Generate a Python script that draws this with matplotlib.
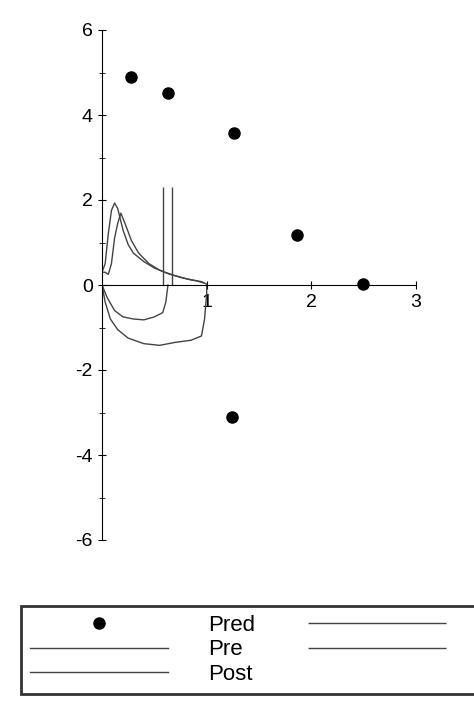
import matplotlib
matplotlib.use("Agg")
import matplotlib.pyplot as plt
plt.rcParams['axes.unicode_minus'] = False
plt.rcParams['font.family'] = ['Liberation Sans', 'DejaVu Sans']

pred_x = [0.28, 0.63, 1.26, 1.86, 2.49, 1.24]
pred_y = [4.89, 4.52, 3.58, 1.18, 0.02, -3.10]

pre_exp_x = [0, 0.03, 0.06, 0.09, 0.12, 0.15, 0.2, 0.25, 0.3, 0.4, 0.5, 0.6, 0.7, 0.8, 0.9, 0.97]
pre_exp_y = [0.3, 0.5, 1.2, 1.75, 1.93, 1.8, 1.3, 0.95, 0.75, 0.55, 0.4, 0.3, 0.22, 0.15, 0.1, 0.05]
pre_insp_x = [0, 0.05, 0.12, 0.2, 0.3, 0.4, 0.5, 0.58, 0.61, 0.63]
pre_insp_y = [0, -0.3, -0.6, -0.75, -0.8, -0.82, -0.75, -0.65, -0.4, 0]

post_exp_x = [0, 0.03, 0.06, 0.09, 0.12, 0.15, 0.18, 0.22, 0.28, 0.35, 0.45, 0.55, 0.65, 0.75, 0.85, 0.95, 1.0]
post_exp_y = [0.3, 0.3, 0.25, 0.5, 1.1, 1.45, 1.69, 1.45, 1.05, 0.75, 0.5, 0.35, 0.25, 0.18, 0.12, 0.08, 0.02]
post_insp_x = [0, 0.03, 0.08, 0.15, 0.25, 0.4, 0.55, 0.7, 0.85, 0.95, 0.98, 1.0, 1.0]
post_insp_y = [0, -0.4, -0.8, -1.05, -1.25, -1.38, -1.42, -1.35, -1.3, -1.2, -0.8, -0.2, 0]

vline_x = [0.58, 0.67]
vline_top = 2.3

fig = plt.figure(figsize=(4.74, 7.2), dpi=100)
ax = fig.add_axes([102/474, 1-540/720, (416-102)/474, 510/720])
ax.set_xlim(0, 3)
ax.set_ylim(-6, 6)
ax.spines['left'].set_position(('data', 0))
ax.spines['bottom'].set_position(('data', 0))
ax.spines['right'].set_visible(False)
ax.spines['top'].set_visible(False)
ax.set_xticks([1, 2, 3])
ax.set_yticks([-6, -4, -2, 0, 2, 4, 6])
ax.set_yticks([-5, -3, -1, 1, 3, 5], minor=True)
ax.tick_params(direction='inout', length=6, labelsize=14)
ax.tick_params(which='minor', direction='inout', length=4)

c = '#444444'
h1, = ax.plot(pred_x, pred_y, 'o', color='black', markersize=8, label='Pred')
h2, = ax.plot(pre_exp_x, pre_exp_y, color=c, lw=1, label='Pre')
ax.plot(pre_insp_x, pre_insp_y, color=c, lw=1)
h3, = ax.plot(post_exp_x, post_exp_y, color=c, lw=1, label='Post')
ax.plot(post_insp_x, post_insp_y, color=c, lw=1)
h4 = ax.vlines(vline_x[0], 0, vline_top, color=c, lw=1, label='Pre')
h5 = ax.vlines(vline_x[1], 0, vline_top, color=c, lw=1, label='Post')

leg = fig.legend(handles=[h1, h2, h3, h4, h5], labels=['Pred', 'Pre', 'Post', 'Pre', 'Post'],
                 ncol=2, loc='upper left', bbox_to_anchor=(10/474, 1-595/720),
                 fontsize=16, handlelength=6.2, handletextpad=1.8, columnspacing=2.4,
                 frameon=True, fancybox=False, edgecolor='black', borderpad=0.4,
                 labelspacing=0.15)
leg.get_frame().set_linewidth(2)
fig.savefig('out.png', dpi=100)
